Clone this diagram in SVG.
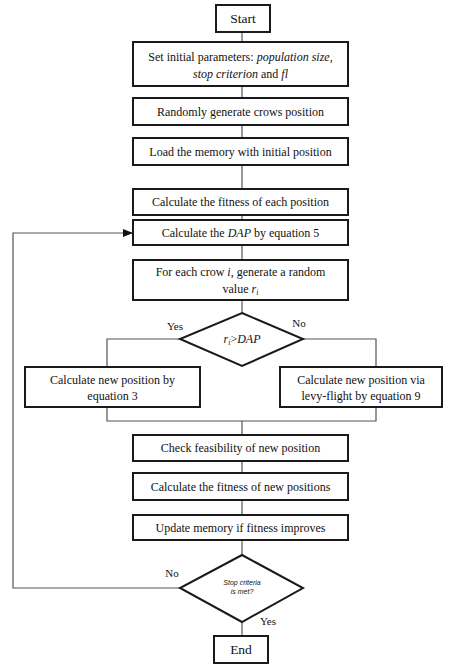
<svg xmlns="http://www.w3.org/2000/svg" width="474" height="668" viewBox="0 0 474 668">
<style>
.box{fill:#fff;stroke:#1a1a1a;stroke-width:2}
.dia{fill:#fff;stroke:#1a1a1a;stroke-width:2}
.ln{fill:none;stroke:#555;stroke-width:1.2}
.t{font-family:"Liberation Serif","Times New Roman",serif;font-size:12px;fill:#111;text-anchor:middle}
.big{font-size:13.5px}
.lbl{font-family:"Liberation Serif","Times New Roman",serif;font-size:11px;fill:#111;text-anchor:middle}
.sm{font-family:"Liberation Sans",Arial,sans-serif;font-size:7px;font-style:italic;fill:#111;text-anchor:middle}
.i{font-style:italic}
</style>
<defs>
<marker id="ah" markerWidth="10" markerHeight="8" refX="9" refY="4" orient="auto" markerUnits="userSpaceOnUse">
<path d="M0,0 L10,4 L0,8 Z" fill="#111"/>
</marker>
</defs>
<g id="connectors">
<line class="ln" x1="242" y1="32" x2="242" y2="42"/>
<line class="ln" x1="242" y1="86" x2="242" y2="98"/>
<line class="ln" x1="242" y1="125" x2="242" y2="138"/>
<line class="ln" x1="242" y1="165" x2="242" y2="189"/>
<line class="ln" x1="242" y1="215" x2="242" y2="220"/>
<line class="ln" x1="242" y1="245" x2="242" y2="260"/>
<line class="ln" x1="242" y1="300" x2="242" y2="313"/>
<polyline class="ln" points="180,339 107,339 107,367"/>
<polyline class="ln" points="303,339 376,339 376,367"/>
<polyline class="ln" points="107,407 107,421 376,421 376,407"/>
<line class="ln" x1="242" y1="421" x2="242" y2="435"/>
<line class="ln" x1="242" y1="461" x2="242" y2="473"/>
<line class="ln" x1="242" y1="500" x2="242" y2="515"/>
<line class="ln" x1="242" y1="540" x2="242" y2="555"/>
<line class="ln" x1="242" y1="622" x2="242" y2="636"/>
<polyline class="ln" points="180,588 13,588 13,233 132,233" marker-end="url(#ah)"/>
<text class="lbl" x="175" y="330">Yes</text>
<text class="lbl" x="299" y="327">No</text>
<text class="lbl" x="172" y="577">No</text>
<text class="lbl" x="268" y="625">Yes</text>
</g>
<g id="start"><rect class="box" x="216" y="5" width="54" height="27"/><text class="t big" x="243" y="23">Start</text></g>
<g id="init"><rect class="box" x="133" y="42" width="215" height="44"/>
<text class="t" x="240.5" y="61">Set initial parameters: <tspan class="i">population size,</tspan></text>
<text class="t" x="240.5" y="78"><tspan class="i">stop criterion</tspan> and <tspan class="i">fl</tspan></text></g>
<g id="random"><rect class="box" x="133" y="98" width="215" height="27"/><text class="t" x="240.5" y="116">Randomly generate crows position</text></g>
<g id="memory"><rect class="box" x="133" y="138" width="215" height="27"/><text class="t" x="240.5" y="156">Load the memory with initial position</text></g>
<g id="fitness"><rect class="box" x="133" y="189" width="215" height="26"/><text class="t" x="240.5" y="206">Calculate the fitness of each position</text></g>
<g id="dap"><rect class="box" x="133" y="220" width="215" height="25"/><text class="t" x="240.5" y="237">Calculate the <tspan class="i">DAP</tspan> by equation 5</text></g>
<g id="foreach"><rect class="box" x="133" y="260" width="215" height="40"/>
<text class="t" x="240.5" y="276">For each crow <tspan class="i">i</tspan>, generate a random</text>
<text class="t" x="240.5" y="293">value <tspan class="i">r</tspan><tspan class="i" font-size="8" dy="2">i</tspan></text></g>
<g id="cond"><polygon class="dia" points="242,313 303,339 242,366 180,339"/>
<text class="t" x="242" y="343"><tspan class="i">r</tspan><tspan class="i" font-size="8" dy="2">i</tspan><tspan dy="-2">&gt;</tspan><tspan class="i">DAP</tspan></text></g>
<g id="eq3"><rect class="box" x="25" y="367" width="175" height="40"/>
<text class="t" x="112.5" y="384">Calculate new position by</text>
<text class="t" x="112.5" y="400">equation 3</text></g>
<g id="eq9"><rect class="box" x="280" y="367" width="162" height="40"/>
<text class="t" x="361" y="384">Calculate new position via</text>
<text class="t" x="361" y="400">levy-flight by equation 9</text></g>
<g id="feas"><rect class="box" x="133" y="435" width="215" height="26"/><text class="t" x="240.5" y="452">Check feasibility of new position</text></g>
<g id="fitnew"><rect class="box" x="133" y="473" width="215" height="27"/><text class="t" x="240.5" y="491">Calculate the fitness of new positions</text></g>
<g id="update"><rect class="box" x="133" y="515" width="215" height="25"/><text class="t" x="240.5" y="532">Update memory if fitness improves</text></g>
<g id="stop"><polygon class="dia" points="242,555 303,588 242,622 180,588"/>
<text class="sm" x="242" y="585">Stop criteria</text>
<text class="sm" x="242" y="594">is met?</text></g>
<g id="end"><rect class="box" x="214" y="636" width="54" height="27"/><text class="t big" x="241" y="654">End</text></g>
</svg>
